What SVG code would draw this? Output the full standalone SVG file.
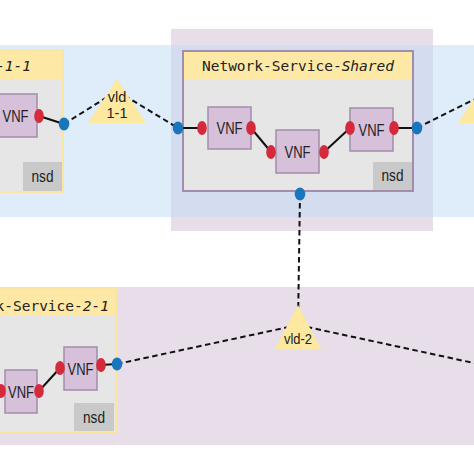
<svg xmlns="http://www.w3.org/2000/svg" width="474" height="474" viewBox="0 0 474 474">
<style>
.bg{fill:#ffffff}
.blue-band{fill:#deedf9}
.lav{fill:#e7dee9}
.overlap{fill:#d4ddef}
.nsbox{fill:#e6e6e6;stroke-width:2}
.ns-y{stroke:#fbe6a0}
.ns-p{stroke:#a38dab}
.ttl{fill:#fde9a5}
.title{font-family:"DejaVu Sans Mono","Liberation Mono",monospace;font-size:14.5px;fill:#222}
.vnf{fill:#d7c0da;stroke:#a38dab;stroke-width:1.5}
.lbl{font-family:"Liberation Sans Narrow","Liberation Sans",Arial,sans-serif;font-size:16px;fill:#222}
.vl{font-family:"Liberation Sans Narrow","Liberation Sans",Arial,sans-serif;font-size:14.5px;fill:#222}
.tag{fill:#c9c9c9}
.solid{stroke:#111;stroke-width:2;fill:none}
.dash{stroke:#111;stroke-width:2;fill:none;stroke-dasharray:5.5 3.5}
.tri{fill:#fde8a0}
.red{fill:#d42a3c}
.bl{fill:#1a76bc}
</style>
<rect class="bg" x="0" y="0" width="474" height="474"/>
<g id="backgrounds">
<rect class="blue-band" x="0" y="45" width="474" height="172"/>
<rect class="lav" x="171" y="29" width="262" height="202"/>
<rect class="overlap" x="171" y="45" width="262" height="172"/>
<rect class="lav" x="0" y="287" width="474" height="158"/>
</g>
<g id="ns-1-1">
<rect class="nsbox ns-y" x="-167" y="50" width="230" height="142"/>
<rect class="ttl" x="-166" y="51" width="228" height="29"/>
<text class="title" x="-52" y="71" text-anchor="middle">Network-Service-<tspan font-style="italic">1-1</tspan></text>
<rect class="vnf" x="-6" y="94" width="43" height="43"/>
<text class="lbl" x="15.5" y="121.5" text-anchor="middle" textLength="26" lengthAdjust="spacingAndGlyphs">VNF</text>
<rect class="tag" x="23" y="162" width="39" height="29"/>
<text class="lbl" x="42.5" y="182" text-anchor="middle" textLength="22" lengthAdjust="spacingAndGlyphs">nsd</text>
</g>
<g id="ns-shared">
<rect class="nsbox ns-p" x="183" y="51" width="230" height="140"/>
<rect class="ttl" x="184" y="52" width="228" height="27"/>
<text class="title" x="298" y="71" text-anchor="middle">Network-Service-<tspan font-style="italic">Shared</tspan></text>
<rect class="vnf" x="208" y="107" width="43" height="42"/>
<text class="lbl" x="229.5" y="134" text-anchor="middle" textLength="26" lengthAdjust="spacingAndGlyphs">VNF</text>
<rect class="vnf" x="276" y="130" width="43" height="43"/>
<text class="lbl" x="297.5" y="157.5" text-anchor="middle" textLength="26" lengthAdjust="spacingAndGlyphs">VNF</text>
<rect class="vnf" x="350" y="108" width="43" height="43"/>
<text class="lbl" x="371.5" y="135.5" text-anchor="middle" textLength="26" lengthAdjust="spacingAndGlyphs">VNF</text>
<rect class="tag" x="373" y="162" width="39" height="28"/>
<text class="lbl" x="392.5" y="181" text-anchor="middle" textLength="22" lengthAdjust="spacingAndGlyphs">nsd</text>
</g>
<g id="ns-2-1">
<rect class="nsbox ns-y" x="-100" y="289" width="216" height="143"/>
<rect class="ttl" x="-99" y="290" width="214" height="25"/>
<text class="title" x="109" y="311" text-anchor="end">Network-Service-<tspan font-style="italic">2-1</tspan></text>
<rect class="vnf" x="5" y="370" width="32" height="43"/>
<text class="lbl" x="21" y="397.5" text-anchor="middle" textLength="26" lengthAdjust="spacingAndGlyphs">VNF</text>
<rect class="vnf" x="64" y="347" width="33" height="43"/>
<text class="lbl" x="80.5" y="374.5" text-anchor="middle" textLength="26" lengthAdjust="spacingAndGlyphs">VNF</text>
<rect class="tag" x="74" y="403" width="40" height="28"/>
<text class="lbl" x="94" y="422.5" text-anchor="middle" textLength="22" lengthAdjust="spacingAndGlyphs">nsd</text>
</g>
<g id="connectors">
<line class="solid" x1="39" y1="116" x2="64" y2="124"/>
<line class="solid" x1="178" y1="128" x2="202" y2="128"/>
<line class="solid" x1="251" y1="128" x2="271" y2="152"/>
<line class="solid" x1="324" y1="152" x2="350" y2="128"/>
<line class="solid" x1="394" y1="128" x2="417" y2="128"/>
<line class="solid" x1="39" y1="391" x2="60" y2="368"/>
<line class="solid" x1="101" y1="365" x2="117" y2="364"/>
<line class="dash" x1="64" y1="124" x2="117" y2="91"/>
<line class="dash" x1="117" y1="91" x2="178" y2="128"/>
<line class="dash" x1="417" y1="128" x2="487" y2="93"/>
<line class="dash" x1="300" y1="194" x2="298" y2="325"/>
<line class="dash" x1="117" y1="364" x2="298" y2="325"/>
<line class="dash" x1="298" y1="325" x2="520" y2="373"/>
</g>
<g id="vld-1-1">
<polygon class="tri" points="117,79 146,123 88,123"/>
<text class="vl" x="117" y="102" text-anchor="middle">vld</text>
<text class="vl" x="117" y="117.5" text-anchor="middle">1-1</text>
</g>
<g id="vld-2">
<polygon class="tri" points="298,305 321,349 275,349"/>
<text class="vl" x="298" y="344" text-anchor="middle" textLength="28" lengthAdjust="spacingAndGlyphs">vld-2</text>
</g>
<g id="vld-right">
<polygon class="tri" points="487,79 516,123 458,123"/>
</g>
<g id="ports">
<ellipse class="red" cx="39" cy="116" rx="4.8" ry="7"/>
<ellipse class="red" cx="202" cy="128" rx="4.8" ry="7"/>
<ellipse class="red" cx="251" cy="128" rx="4.8" ry="7"/>
<ellipse class="red" cx="271" cy="152" rx="4.8" ry="7"/>
<ellipse class="red" cx="324" cy="152" rx="4.8" ry="7"/>
<ellipse class="red" cx="350" cy="128" rx="4.8" ry="7"/>
<ellipse class="red" cx="394" cy="128" rx="4.8" ry="7"/>
<ellipse class="red" cx="1" cy="391" rx="4.8" ry="7"/>
<ellipse class="red" cx="39" cy="391" rx="4.8" ry="7"/>
<ellipse class="red" cx="60" cy="368" rx="4.8" ry="7"/>
<ellipse class="red" cx="101" cy="365" rx="4.8" ry="7"/>
<ellipse class="bl" cx="64" cy="124" rx="5.3" ry="6.5"/>
<ellipse class="bl" cx="178" cy="128" rx="5.3" ry="6.5"/>
<ellipse class="bl" cx="417" cy="128" rx="5.3" ry="6.5"/>
<ellipse class="bl" cx="300" cy="194" rx="5.3" ry="6.5"/>
<ellipse class="bl" cx="117" cy="364" rx="5.3" ry="6.5"/>
</g>
</svg>
